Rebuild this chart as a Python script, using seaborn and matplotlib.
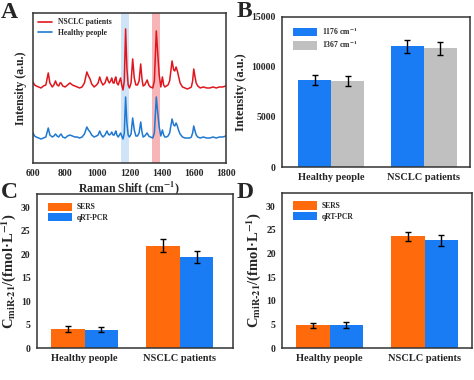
import numpy as np
import pandas as pd
import matplotlib
matplotlib.use("Agg")
import matplotlib.pyplot as plt
import seaborn as sns
from matplotlib.patches import Patch
from matplotlib.lines import Line2D
from matplotlib.ticker import MultipleLocator

# ---------------- data ----------------
raman_shift = [600, 610, 620, 635, 650, 665, 680, 695, 705, 720, 730, 740, 750, 760, 768, 775,
               785, 800, 815, 830, 845, 860, 875, 890, 905, 920, 935, 945, 955, 965, 980, 995,
               1005, 1015, 1025, 1035, 1048, 1060, 1068, 1075, 1083, 1090, 1098, 1105, 1110,
               1115, 1122, 1130, 1138, 1145, 1152, 1160, 1168, 1176, 1184, 1192, 1200, 1210,
               1220, 1230, 1240, 1250, 1260, 1270, 1278, 1285, 1295, 1310, 1320, 1330, 1345,
               1355, 1367, 1375, 1385, 1395, 1405, 1413, 1420, 1430, 1440, 1450, 1465, 1475,
               1482, 1490, 1498, 1505, 1515, 1530, 1545, 1560, 1575, 1585, 1593, 1600, 1608,
               1615, 1625, 1640, 1660, 1680, 1700, 1720, 1740, 1760, 1780, 1800]
nsclc_spec = [81, 78, 77, 76, 75, 77, 78, 90, 80, 76, 78, 82, 78, 77, 80, 80,
              77, 76, 78, 80, 78, 77, 76, 75, 76, 80, 91, 87, 84, 79, 76, 78,
              80, 86, 81, 78, 80, 86, 82, 80, 82, 85, 80, 80, 84,
              86, 80, 78, 82, 85, 78, 73, 82, 134, 95, 78, 75, 80,
              104, 85, 78, 78, 82, 99, 84, 77, 78, 83, 78, 76, 75,
              82, 132, 112, 88, 76, 86, 78, 76, 77, 78, 82, 102, 93,
              92, 96, 92, 87, 80, 76, 75, 74, 75, 76, 82, 94, 86,
              80, 77, 75, 76, 75, 75, 76, 75, 76, 76, 77]
healthy_spec = [30, 27, 26, 25, 24, 25, 26, 35, 28, 26, 27, 29, 27, 26, 28, 29,
                26, 25, 27, 28, 27, 26, 26, 25, 26, 29, 36, 33, 31, 28, 26, 27,
                28, 32, 28, 26, 28, 32, 29, 28, 29, 31, 28, 28, 30,
                32, 28, 26, 28, 30, 27, 24, 30, 66, 40, 28, 26, 29,
                45, 33, 27, 27, 30, 41, 31, 26, 27, 30, 27, 26, 25,
                30, 66, 52, 36, 27, 33, 28, 26, 26, 27, 30, 44, 38,
                37, 40, 37, 33, 29, 26, 25, 25, 25, 26, 30, 37, 32,
                28, 26, 25, 26, 25, 25, 26, 25, 26, 26, 27]
band_1176 = (1150, 1200)
band_1367 = (1340, 1390)

groups = ["Healthy people", "NSCLC patients"]
b_series = ["1176 cm$^{\\mathbf{-1}}$", "1367 cm$^{\\mathbf{-1}}$"]
b_vals = {"1176": [8700, 12050], "1367": [8550, 11850]}
b_err = {"1176": [500, 650], "1367": [500, 650]}

cd_series = ["SERS", "qRT-PCR"]
c_vals = {"SERS": [4.1, 21.8], "qRT-PCR": [3.9, 19.4]}
c_err = {"SERS": [0.6, 1.4], "qRT-PCR": [0.5, 1.3]}
d_vals = {"SERS": [4.8, 23.6], "qRT-PCR": [4.8, 22.8]}
d_err = {"SERS": [0.5, 1.0], "qRT-PCR": [0.6, 1.2]}

# ---------------- style ----------------
sns.set_style("white")
plt.rcParams["font.family"] = ["Liberation Serif", "DejaVu Serif"]
plt.rcParams["font.weight"] = "bold"
plt.rcParams["mathtext.fontset"] = "stix"
plt.rcParams["axes.labelweight"] = "bold"

RED = "#e0161e"
BLUE_L = "#1f78d1"
BLUE = "#1a7cf5"
GRAY = "#c0c0c0"
ORANGE = "#ff6a0d"
SPINE = "#333333"

fig = plt.figure(figsize=(4.74, 3.80), dpi=100)
axA = fig.add_axes([0.0696, 0.571, 0.407, 0.395])
axB = fig.add_axes([0.595, 0.5605, 0.397, 0.395])
axC = fig.add_axes([0.078, 0.0842, 0.4135, 0.405])
axD = fig.add_axes([0.595, 0.0842, 0.401, 0.408])


def style_axes(ax):
    for s in ax.spines.values():
        s.set_color(SPINE)
        s.set_linewidth(1.1)
    ax.tick_params(axis="both", direction="out", length=3, width=1, color=SPINE,
                   labelsize=7, pad=1.5)
    for lab in ax.get_xticklabels() + ax.get_yticklabels():
        lab.set_fontweight("bold")


# ---------------- panel A ----------------
n = len(raman_shift)
spec = pd.DataFrame({"shift": raman_shift * 2,
                     "I": nsclc_spec + healthy_spec,
                     "who": ["NSCLC patients"] * n + ["Healthy people"] * n})
axA.axvspan(*band_1176, color="#cfe4f7", zorder=0, lw=0)
axA.axvspan(*band_1367, color="#f7b5b8", zorder=0, lw=0)
sns.lineplot(data=spec, x="shift", y="I", hue="who", palette={"NSCLC patients": RED,
             "Healthy people": BLUE_L}, lw=1.1, ax=axA, legend=False)
axA.set_xlim(600, 1800)
axA.set_ylim(0, 150)
axA.set_yticks([])
axA.xaxis.set_major_locator(MultipleLocator(200))
axA.xaxis.set_minor_locator(MultipleLocator(100))
axA.tick_params(axis="x", which="minor", direction="out", length=2, color=SPINE)
axA.set_xlabel("Raman Shift (cm$^{\\mathbf{-1}}$)", fontsize=8.5, fontweight="bold", labelpad=1)
axA.set_ylabel("Intensity (a.u.)", fontsize=8.5, fontweight="bold", labelpad=4)
axA.legend(handles=[Line2D([], [], color=RED, lw=1.2, label="NSCLC patients"),
                    Line2D([], [], color=BLUE_L, lw=1.2, label="Healthy people")],
           loc="upper left", frameon=False, prop={"size": 5.5, "weight": "bold"},
           handlelength=1.8, borderaxespad=0.3, labelspacing=0.3)
style_axes(axA)


def bar_panel(ax, vals, errs, labels, names, colors, ylim, ystep, xlim, yminor=None):
    rows = []
    for name, lab in zip(names, labels):
        for g, v in zip(groups, vals[name]):
            rows.append({"group": g, "series": lab, "value": v})
    df = pd.DataFrame(rows)
    sns.barplot(data=df, x="group", y="value", hue="series", palette=dict(zip(labels, colors)),
                width=0.71, errorbar=None, ax=ax, legend=False, saturation=1,
                linewidth=0, edgecolor="none")
    # error bars placed on bar centres
    i = 0
    for name in names:
        for g_idx in range(len(groups)):
            p = ax.patches[i]
            cx = p.get_x() + p.get_width() / 2
            ax.errorbar(cx, p.get_height(), yerr=errs[name][g_idx], color="black",
                        capsize=2, elinewidth=1, capthick=1, zorder=5)
            i += 1
    ax.set_ylim(*ylim)
    ax.set_xlim(*xlim)
    ax.yaxis.set_major_locator(MultipleLocator(ystep))
    if yminor:
        ax.yaxis.set_minor_locator(MultipleLocator(yminor))
        ax.tick_params(axis="y", which="minor", direction="out", length=2, color=SPINE)
    ax.set_xlabel("")
    ax.tick_params(axis="x", length=0)
    ax.legend(handles=[Patch(facecolor=c, edgecolor="none", label=l) for c, l in zip(colors, labels)],
              loc="upper left", frameon=False, prop={"size": 5.5, "weight": "bold"},
              handlelength=3.2, handleheight=1.3, borderaxespad=0.5, labelspacing=0.25,
              handletextpad=0.6, bbox_to_anchor=(0.02, 0.99))
    style_axes(ax)
    for lab in ax.get_xticklabels():
        lab.set_fontsize(7.5)


bar_panel(axB, b_vals, b_err, b_series, ["1176", "1367"], [BLUE, GRAY],
          (0, 15000), 5000, (-0.53, 1.5))
axB.set_ylabel("Intensity (a.u.)", fontsize=9, fontweight="bold", labelpad=3)

ylab = "C$_{\\mathbf{miR}\\text{-}\\mathbf{21}}$/(fmol·L$^{\\mathbf{-1}}$)"
bar_panel(axC, c_vals, c_err, cd_series, cd_series, [ORANGE, BLUE],
          (0, 32.8), 5, (-0.5, 1.56), yminor=1)
axC.set_ylabel(ylab, fontsize=10.5, fontweight="bold", labelpad=2)
bar_panel(axD, d_vals, d_err, cd_series, cd_series, [ORANGE, BLUE],
          (0, 32.8), 5, (-0.5, 1.5), yminor=1)
axD.set_ylabel(ylab, fontsize=10.5, fontweight="bold", labelpad=2)

# panel letters
for txt, x, y in [("A", 0.002, 0.995), ("B", 0.500, 0.998), ("C", 0.002, 0.522), ("D", 0.500, 0.520)]:
    fig.text(x, y, txt, fontsize=17, fontweight="bold", va="top", ha="left")

fig.savefig("out.png", dpi=100)
